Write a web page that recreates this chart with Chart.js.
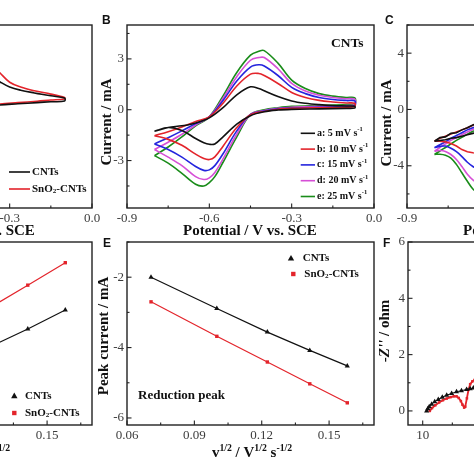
<!DOCTYPE html>
<html>
<head>
<meta charset="utf-8">
<script src="https://cdn.jsdelivr.net/npm/chart.js@4.4.1/dist/chart.umd.min.js"></script>
<style>
  html, body { margin: 0; padding: 0; background: #fff; }
  body { width: 474px; height: 474px; overflow: hidden; position: relative; }
  canvas { position: absolute; }
</style>
</head>
<body>
<canvas id="panelA"></canvas>
<canvas id="panelB"></canvas>
<canvas id="panelC"></canvas>
<canvas id="panelD"></canvas>
<canvas id="panelE"></canvas>
<canvas id="panelF"></canvas>
<script>
// ---------- data ----------
const rateLabels = ['a: 5 mV s', 'b: 10 mV s', 'c: 15 mV s', 'd: 20 mV s', 'e: 25 mV s'];
const rateColors = ['#111111', '#e3242b', '#2424dd', '#d64fd6', '#1a8c1a'];
const sampleLabels = ['CNTs', 'SnO2-CNTs'];

// A: CNTs vs SnO2-CNTs (only right part visible)
const aFwdV = [-0.80, -0.70, -0.60, -0.50, -0.44, -0.40, -0.36, -0.335, -0.30, -0.26, -0.21, -0.15, -0.10];
const aFwdCnt = [-1.5, -1.1, -0.5, 1.0, 2.0, 2.1, 1.9, 1.64, 1.34, 1.15, 0.99, 0.82, 0.69];
const aFwdSno = [-2.0, -1.5, -0.7, 1.4, 2.8, 3.0, 2.6, 2.17, 1.62, 1.34, 1.12, 0.92, 0.72];
const aRevV = [-0.10, -0.15, -0.20, -0.27, -0.335, -0.40, -0.50, -0.60, -0.70, -0.80];
const aRevCnt = [0.51, 0.47, 0.42, 0.35, 0.28, 0.05, -1.2, -2.4, -1.8, -1.5];
const aRevSno = [0.63, 0.57, 0.50, 0.42, 0.34, 0.10, -1.6, -3.2, -2.5, -2.0];

// B: CNTs at five scan rates
const bFwdV = [-0.80, -0.75, -0.70, -0.65, -0.60, -0.55, -0.50, -0.45, -0.42, -0.40, -0.35, -0.30, -0.25, -0.20, -0.15, -0.10, -0.07];
const bFwdA = [-1.27, -1.05, -0.95, -0.78, -0.48, 0.12, 0.88, 1.35, 1.25, 1.12, 0.78, 0.52, 0.38, 0.30, 0.25, 0.22, 0.20];
const bFwdB = [-1.53, -1.30, -1.02, -0.70, -0.42, 0.38, 1.40, 2.10, 2.14, 2.02, 1.55, 1.02, 0.72, 0.55, 0.46, 0.40, 0.38];
const bFwdC = [-2.02, -1.65, -1.25, -0.82, -0.42, 0.55, 1.70, 2.52, 2.65, 2.58, 2.02, 1.32, 0.95, 0.72, 0.60, 0.54, 0.52];
const bFwdD = [-2.35, -1.92, -1.45, -0.90, -0.42, 0.68, 1.95, 2.92, 3.08, 3.08, 2.42, 1.55, 1.10, 0.85, 0.72, 0.65, 0.62];
const bFwdE = [-2.71, -2.20, -1.60, -0.95, -0.42, 0.82, 2.20, 3.22, 3.45, 3.49, 2.75, 1.75, 1.25, 0.95, 0.80, 0.72, 0.70];
const bRevV = [-0.07, -0.10, -0.20, -0.30, -0.35, -0.40, -0.45, -0.50, -0.55, -0.58, -0.60, -0.62, -0.65, -0.70, -0.75, -0.80];
const bRevA = [0.10, 0.08, 0.05, 0.02, -0.02, -0.12, -0.35, -0.85, -1.60, -2.02, -2.04, -1.95, -1.70, -1.22, -1.05, -1.27];
const bRevB = [0.20, 0.15, 0.12, 0.08, 0.03, -0.10, -0.30, -1.05, -2.15, -2.78, -2.94, -2.88, -2.62, -2.10, -1.75, -1.53];
const bRevC = [0.25, 0.20, 0.15, 0.10, 0.05, -0.08, -0.28, -1.25, -2.60, -3.30, -3.55, -3.58, -3.35, -2.80, -2.35, -2.02];
const bRevD = [0.30, 0.25, 0.20, 0.15, 0.08, -0.05, -0.28, -1.45, -2.90, -3.70, -4.02, -4.12, -3.95, -3.30, -2.80, -2.35];
const bRevE = [0.35, 0.30, 0.25, 0.20, 0.12, 0.00, -0.28, -1.60, -3.10, -3.95, -4.30, -4.50, -4.40, -3.75, -3.15, -2.71];

// C: SnO2-CNTs at five scan rates (left edge only)
const cFwdV = [-0.80, -0.78, -0.76, -0.74, -0.72, -0.70, -0.68, -0.66, -0.64, -0.60];
const cFwdA = [-2.25, -2.00, -1.95, -1.70, -1.65, -1.45, -1.30, -1.10, -0.95, -0.80];
const cFwdB = [-2.25, -2.05, -1.90, -1.75, -1.60, -1.45, -1.30, -1.12, -1.00, -0.85];
const cFwdC = [-2.72, -2.50, -2.30, -2.05, -1.85, -1.65, -1.45, -1.30, -1.15, -0.90];
const cFwdD = [-2.96, -2.70, -2.45, -2.20, -2.00, -1.80, -1.60, -1.42, -1.25, -0.95];
const cFwdE = [-3.19, -2.95, -2.70, -2.45, -2.20, -1.98, -1.75, -1.55, -1.40, -1.05];
const cRevV = [-0.60, -0.64, -0.66, -0.68, -0.70, -0.72, -0.74, -0.76, -0.78, -0.80];
const cRevA = [-1.50, -1.60, -1.70, -1.80, -1.90, -2.00, -2.05, -2.15, -2.20, -2.25];
const cRevB = [-3.00, -3.10, -3.08, -3.00, -2.85, -2.60, -2.42, -2.30, -2.25, -2.25];
const cRevC = [-4.30, -4.25, -4.05, -3.75, -3.35, -3.00, -2.75, -2.60, -2.62, -2.72];
const cRevD = [-5.30, -5.25, -5.00, -4.60, -4.05, -3.55, -3.20, -2.98, -2.92, -2.96];
const cRevE = [-6.00, -5.95, -5.65, -5.10, -4.50, -3.90, -3.45, -3.25, -3.18, -3.19];

// D / E: peak current vs square root of scan rate
const sqrtRate = [0.0707, 0.1, 0.1225, 0.1414, 0.1581];
const dCnt = [1.60, 2.50, 3.20, 3.78, 4.33];
const dSno = [2.35, 3.45, 4.32, 5.05, 5.70];
const eCnt = [-2.00, -2.89, -3.56, -4.08, -4.52];
const eSno = [-2.70, -3.68, -4.41, -5.03, -5.57];

// F: Nyquist plot
const fCntRe = [10.67, 10.87, 11.10, 11.52, 12.03, 12.63, 13.31, 14.05, 14.88, 15.71, 16.54, 17.41, 18.01, 18.56, 19.21, 19.85];
const fCntIm = [0, 0.08, 0.15, 0.24, 0.33, 0.41, 0.49, 0.56, 0.62, 0.68, 0.72, 0.76, 0.79, 0.81, 0.82, 0.83];
const fSnoRe = [11.20, 11.57, 12.12, 12.76, 13.41, 14.05, 14.70, 15.25, 15.71, 16.08, 16.44, 16.72, 17.00, 17.18, 17.46, 17.73, 18.01, 18.38, 18.75, 19.21, 19.76];
const fSnoIm = [0, 0.10, 0.20, 0.30, 0.38, 0.44, 0.49, 0.52, 0.52, 0.46, 0.35, 0.22, 0.12, 0.15, 0.45, 0.75, 0.95, 1.05, 1.10, 1.15, 1.20];

// ---------- helpers ----------
const PW = 247, PH = 183, PL = 62, PT = 20, PR = 14, PB = 52;
const SERIF = '"Liberation Serif", "Times New Roman", serif';
Chart.defaults.font.family = SERIF;

function pts(xs, ys) { return xs.map((x, i) => ({x, y: ys[i]})); }
function loop(fv, f, rv, r) { return pts(fv, f).concat(pts(rv, r)); }

function axis(min, max, step, every, digits) {
  return {
    type: 'linear', min, max,
    grid: {display: false, drawTicks: false},
    border: {display: false},
    ticks: {
      stepSize: step, includeBounds: false, autoSkip: false, maxRotation: 0, padding: 3,
      color: '#3c3c3c', font: {family: SERIF, size: 13},
      callback: v => {
        const k = v / every;
        if (Math.abs(k - Math.round(k)) > 1e-6) return '';
        return Math.abs(v) < 1e-9 ? (0).toFixed(digits) : v.toFixed(digits);
      }
    },
    afterFit: s => { if (s.isHorizontal()) s.height = PB; else s.width = PL; }
  };
}

function rich(ctx, segs, size, bold, x, y, align) {
  const wt = bold ? 'bold ' : '';
  const parts = segs.map(([t, k]) => {
    const sz = (k === '^' || k === '_') ? size * 0.65 : size;
    const font = (k === 'i' ? 'italic ' : '') + wt + sz + 'px ' + SERIF;
    ctx.font = font;
    return {t, font, w: ctx.measureText(t).width, dy: k === '^' ? -size * 0.38 : (k === '_' ? size * 0.18 : 0)};
  });
  const total = parts.reduce((a, p) => a + p.w, 0);
  let cx = align === 'center' ? x - total / 2 : x;
  ctx.textAlign = 'left';
  for (const p of parts) { ctx.font = p.font; ctx.fillText(p.t, cx, y + p.dy); cx += p.w; }
}

function marker(ctx, kind, x, y, color) {
  ctx.fillStyle = color;
  ctx.beginPath();
  if (kind === 'triangle') {
    ctx.moveTo(x, y - 3.4); ctx.lineTo(x + 3.2, y + 2.2); ctx.lineTo(x - 3.2, y + 2.2); ctx.closePath();
  } else {
    ctx.rect(x - 2.2, y - 2.2, 4.4, 4.4);
  }
  ctx.fill();
}

const framePlugin = {
  id: 'frame',
  afterDatasetsDraw(chart) {
    const {ctx, chartArea: ca} = chart;
    ctx.save();
    ctx.strokeStyle = '#222';
    ctx.lineWidth = 1.1;
    for (const s of Object.values(chart.scales)) {
      for (const t of s.ticks) {
        const p = s.getPixelForValue(t.value);
        const len = t.label !== '' ? 4.5 : 2.5;
        ctx.beginPath();
        if (s.isHorizontal()) { ctx.moveTo(p, ca.bottom); ctx.lineTo(p, ca.bottom - len); }
        else { ctx.moveTo(ca.left, p); ctx.lineTo(ca.left + len, p); }
        ctx.stroke();
      }
    }
    ctx.lineWidth = 1.4;
    ctx.strokeRect(ca.left, ca.top, ca.right - ca.left, ca.bottom - ca.top);
    ctx.restore();
  }
};

const decorPlugin = {
  id: 'decor',
  afterDraw(chart, args, o) {
    const {ctx, chartArea: ca} = chart;
    ctx.save();
    ctx.fillStyle = '#111';
    ctx.textBaseline = 'alphabetic';
    if (o.letter) {
      ctx.font = 'bold 12px "Liberation Sans", Arial, sans-serif';
      ctx.textAlign = 'left';
      ctx.fillText(o.letter[0], ca.left + o.letter[1], ca.top + o.letter[2]);
    }
    if (o.ytitle) {
      ctx.save();
      ctx.translate(ca.left + o.ytitle[1], ca.top + o.ytitle[2]);
      ctx.rotate(-Math.PI / 2);
      ctx.textBaseline = 'middle';
      rich(ctx, o.ytitle[0], 15, true, 0, 0, 'center');
      ctx.restore();
    }
    if (o.xtitle) rich(ctx, o.xtitle[0], 15, true, ca.left + o.xtitle[1], ca.bottom + o.xtitle[2], 'center');
    for (const n of (o.notes || [])) rich(ctx, n[0], n[1], true, ca.left + n[2], ca.top + n[3], 'left');
    for (const e of (o.legend || [])) {
      const y = ca.top + e.y;
      if (e.kind === 'line') {
        ctx.strokeStyle = e.color; ctx.lineWidth = 1.6;
        ctx.beginPath(); ctx.moveTo(ca.left + e.x, y); ctx.lineTo(ca.left + e.x2, y); ctx.stroke();
      } else {
        marker(ctx, e.kind, ca.left + e.x, y, e.color);
      }
      ctx.fillStyle = '#111';
      ctx.textBaseline = 'middle';
      rich(ctx, e.text, e.size, true, ca.left + e.tx, y, 'left');
      ctx.textBaseline = 'alphabetic';
    }
    ctx.restore();
  }
};

function makePanel(id, left, top, xAxis, yAxis, datasets, decor) {
  const c = document.getElementById(id);
  c.width = PW + PL + PR; c.height = PH + PT + PB;
  c.style.left = (left - PL) + 'px'; c.style.top = (top - PT) + 'px';
  return new Chart(c, {
    type: 'scatter',
    data: {datasets},
    options: {
      responsive: false, animation: false, events: [],
      layout: {padding: {left: 0, top: PT, right: PR, bottom: 0}},
      scales: {x: xAxis, y: yAxis},
      plugins: {legend: {display: false}, tooltip: {enabled: false}, decor}
    },
    plugins: [framePlugin, decorPlugin]
  });
}

function cvSet(data, color, tension) {
  return {data, borderColor: color, backgroundColor: color, borderWidth: 1.6, pointRadius: 0, showLine: true, tension};
}

const potTitle = [['Potential / V vs. SCE', '']];
const curTitle = [['Current / mA', '']];
const sqrtTitle = [['v', ''], ['1/2', '^'], [' / V', ''], ['1/2', '^'], [' s', ''], ['-1/2', '^']];
const snoText = [['SnO', ''], ['2', '_'], ['-CNTs', '']];
const rateText = i => [[rateLabels[i], ''], ['-1', '^']];

// ---------- panel A ----------
makePanel('panelA', -155, 25, axis(-0.9, 0, 0.15, 0.3, 1), axis(-5.8, 5, 1.5, 3, 0), [
  cvSet(loop(aFwdV, aFwdCnt, aRevV, aRevCnt), rateColors[0], 0.35),
  cvSet(loop(aFwdV, aFwdSno, aRevV, aRevSno), rateColors[1], 0.35)
], {
  letter: ['A', -25, -1.5], ytitle: [curTitle, -20, 97], xtitle: [potTitle, 123, 27],
  legend: [
    {kind: 'line', color: rateColors[0], x: 164, x2: 185, y: 147, tx: 187, text: [[sampleLabels[0], '']], size: 11},
    {kind: 'line', color: rateColors[1], x: 164, x2: 185, y: 164, tx: 187, text: snoText, size: 11}
  ]
});

// ---------- panel B ----------
const bFwd = [bFwdA, bFwdB, bFwdC, bFwdD, bFwdE];
const bRev = [bRevA, bRevB, bRevC, bRevD, bRevE];
makePanel('panelB', 127, 25, axis(-0.9, 0, 0.15, 0.3, 1), axis(-5.8, 5, 1.5, 3, 0),
  bFwd.map((f, i) => cvSet(loop(bFwdV, f, bRevV, bRev[i]), rateColors[i], 0.35)), {
  letter: ['B', -25, -1.5], ytitle: [curTitle, -20, 97], xtitle: [potTitle, 123, 27],
  notes: [[[['CNTs', '']], 13.5, 204, 21.7]],
  legend: rateLabels.map((l, i) => ({kind: 'line', color: rateColors[i], x: 173.7, x2: 188, y: 108.3 + i * 15.8, tx: 190, text: rateText(i), size: 10}))
});

// ---------- panel C ----------
const cFwd = [cFwdA, cFwdB, cFwdC, cFwdD, cFwdE];
const cRev = [cRevA, cRevB, cRevC, cRevD, cRevE];
makePanel('panelC', 407, 25, axis(-0.9, 0, 0.15, 0.3, 1), axis(-7, 6, 2, 4, 0),
  cFwd.map((f, i) => cvSet(loop(cFwdV, f, cRevV, cRev[i]), rateColors[i], i < 2 ? 0 : 0.35)), {
  letter: ['C', -22, -1], ytitle: [curTitle, -20.3, 98], xtitle: [potTitle, 123, 27]
});

// ---------- panels D and E ----------
function peakSets(cnt, sno) {
  return [
    {data: pts(sqrtRate, cnt), borderColor: '#111', backgroundColor: '#111', borderWidth: 1.2, showLine: true,
      pointStyle: 'triangle', pointRadius: 3, pointBorderWidth: 0},
    {data: pts(sqrtRate, sno), borderColor: rateColors[1], backgroundColor: rateColors[1], borderWidth: 1.2, showLine: true,
      pointStyle: 'rect', pointRadius: 2.4, pointBorderWidth: 0}
  ];
}
makePanel('panelD', -155, 242, axis(0.06, 0.17, 0.015, 0.03, 2), axis(1, 6.3, 1, 2, 0), peakSets(dCnt, dSno), {
  letter: ['D', -24, 5], ytitle: [[['Peak current / mA', '']], -23, 94], xtitle: [sqrtTitle, 125, 32],
  legend: [
    {kind: 'triangle', color: '#111', x: 169.3, y: 154, tx: 180, text: [[sampleLabels[0], '']], size: 11},
    {kind: 'rect', color: rateColors[1], x: 169.3, y: 171, tx: 180, text: snoText, size: 11}
  ]
});
makePanel('panelE', 127, 242, axis(0.06, 0.17, 0.015, 0.03, 2), axis(-6.2, -1, 1, 2, 0), peakSets(eCnt, eSno), {
  letter: ['E', -24, 5], ytitle: [[['Peak current / mA', '']], -23, 94], xtitle: [sqrtTitle, 125, 32],
  notes: [[[['Reduction peak', '']], 13, 11, 156.7]],
  legend: [
    {kind: 'triangle', color: '#111', x: 164, y: 16.3, tx: 175.7, text: [[sampleLabels[0], '']], size: 11},
    {kind: 'rect', color: rateColors[1], x: 166.3, y: 32, tx: 177.3, text: snoText, size: 11}
  ]
});

// ---------- panel F ----------
makePanel('panelF', 408, 242, axis(7.52, 49.2, 5, 10, 0), axis(-0.5, 6, 1, 2, 0), [
  {data: pts(fCntRe, fCntIm), borderColor: '#111', backgroundColor: '#111', borderWidth: 1, showLine: true,
    pointStyle: 'triangle', pointRadius: 3, pointBorderWidth: 0},
  {data: pts(fSnoRe, fSnoIm), borderColor: rateColors[1], backgroundColor: rateColors[1], borderWidth: 1.8, showLine: true,
    pointStyle: 'rect', pointRadius: 1.8, pointBorderWidth: 0}
], {
  letter: ['F', -25, 5], ytitle: [[['-', ''], ["Z''", 'i'], [' / ohm', '']], -23, 89]
});
</script>
</body>
</html>
